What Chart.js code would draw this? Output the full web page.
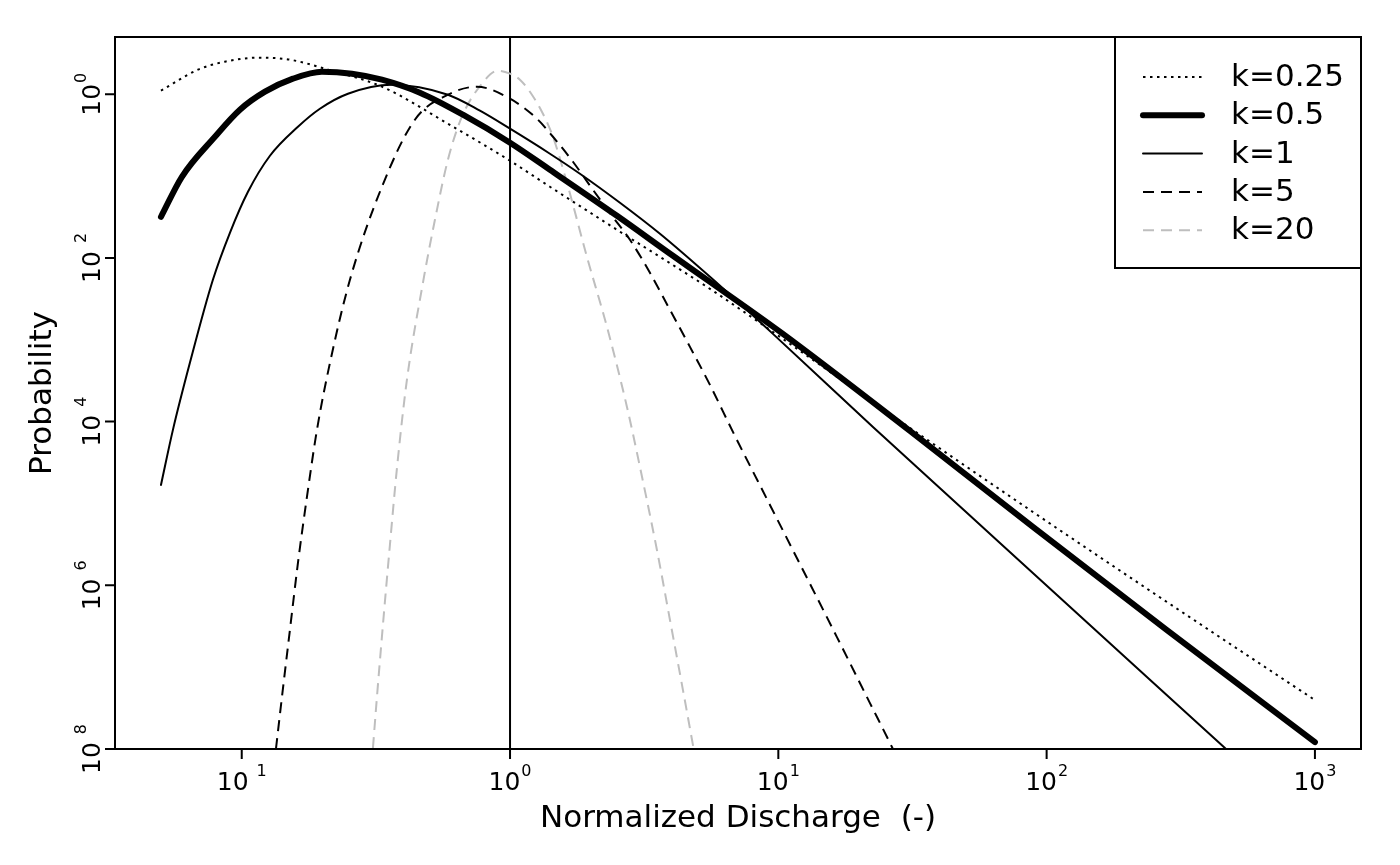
<!DOCTYPE html>
<html>
<head>
<meta charset="utf-8">
<script src="https://cdn.jsdelivr.net/npm/chart.js@4.4.0/dist/chart.umd.min.js"></script>
<style>
  html, body { margin: 0; padding: 0; background: #fff; }
  canvas { display: block; }
</style>
</head>
<body>
<canvas id="pdf-chart" width="1400" height="865"></canvas>
<script>
/* values (normalized discharge vs probability) */
const seriesLabels = ['k=0.25', 'k=0.5', 'k=1', 'k=5', 'k=20'];

const qK025 = [0.05, 0.06865, 0.08659, 0.1149, 0.1512, 0.2096, 0.3331, 0.5869, 1.0, 1.4083, 2.5035, 5.561, 10.139, 28.39, 88.89, 280.8, 1000];
const pK025 = [1.104, 1.993, 2.497, 2.794, 2.641, 1.993, 1.235, 0.436, 0.1538, 0.0740, 0.02206, 0.00419, 0.001085, 1.02e-4, 7.87e-6, 6.25e-7, 3.96e-8];

const qK05 = [0.05, 0.05985, 0.07945, 0.09847, 0.1221, 0.1552, 0.199, 0.2575, 0.3331, 0.4614, 0.6674, 1.0, 1.4083, 2.5035, 4.0482, 5.561, 10.404, 30.94, 88.89, 280.8, 1000];
const pK05 = [0.0318, 0.098, 0.3021, 0.646, 1.073, 1.547, 1.884, 1.781, 1.504, 1.043, 0.5615, 0.2553, 0.1194, 0.0327, 0.01061, 0.0051, 0.00118, 7.7e-5, 5.16e-6, 2.84e-7, 1.215e-8];

const qK1 = [0.05, 0.0554, 0.06409, 0.07808, 0.09036, 0.1055, 0.1274, 0.162, 0.1956, 0.2488, 0.3629, 0.5869, 0.7723, 1.0, 1.4083, 1.822, 2.5688, 3.6207, 5.561, 9.548, 22.527, 66.99, 461.9, 1000];
const pK1 = [1.683e-5, 7.92e-5, 5.22e-4, 0.0054, 0.02026, 0.06427, 0.1771, 0.4006, 0.6648, 1.014, 1.306, 0.986, 0.629, 0.3787, 0.1874, 0.1067, 0.04717, 0.01971, 0.005873, 0.00118, 8.61e-5, 3.29e-6, 1.026e-8, 1.02e-9];

const qK5 = [0.1341, 0.1412, 0.1512, 0.162, 0.175, 0.1907, 0.2132, 0.2531, 0.3331, 0.442, 0.5869, 0.7526, 1.0, 1.2595, 1.4454, 1.7158, 2.037, 2.3981, 2.799, 3.3228, 3.9457, 4.6842, 5.561, 6.7734, 9.3053, 12.354, 16.535, 21.953, 26.735, 30.94];
const pK5 = [1.0e-8, 4.31e-8, 2.84e-7, 1.874e-6, 1.201e-5, 7.92e-5, 5.22e-4, 0.0054, 0.074, 0.488, 0.986, 1.235, 0.881, 0.5017, 0.3021, 0.1496, 0.068, 0.0327, 0.01665, 0.006574, 0.00232, 8.19e-4, 2.81e-4, 7.48e-5, 9.59e-6, 1.538e-6, 2.33e-7, 3.64e-8, 1.0e-8, 3.62e-9];

const qK20 = [0.3083, 0.3191, 0.3359, 0.3567, 0.379, 0.4127, 0.4735, 0.5249, 0.5869, 0.6617, 0.7856, 0.9014, 1.0, 1.0887, 1.2067, 1.3262, 1.4454, 1.6298, 1.9344, 2.2974, 2.7277, 3.0495, 3.5283, 3.9457, 4.411, 4.8065, 4.89];
const pK20 = [1.026e-8, 4.31e-8, 3.27e-7, 3.11e-6, 2.72e-5, 3.23e-4, 0.00496, 0.0292, 0.1582, 0.531, 1.344, 1.938, 1.781, 1.504, 0.986, 0.5776, 0.3021, 0.0828, 0.01031, 0.001438, 1.512e-4, 2.79e-5, 2.7e-6, 3.77e-7, 5.25e-8, 1.116e-8, 8.2e-9];

const xTickValues = [0.1, 1, 10, 100, 1000];
const yTickValues = [1, 1e-2, 1e-4, 1e-6, 1e-8];
const xRange = [0.0337, 1485];
const yRange = [1e-8, 5];
const refLineX = 1;

const FONT = '"DejaVu Sans", sans-serif';

function pairs(xs, ys) {
  return xs.map((x, i) => ({ x: x, y: ys[i] }));
}

// draws 10^e the way the reference shows it (minus sign left as a blank)
function drawPower(ctx, exp, cx, baseline) {
  const base = '10';
  const sup = String(Math.abs(exp));
  ctx.font = '25px ' + FONT;
  const wBase = ctx.measureText(base).width;
  ctx.font = '16px ' + FONT;
  const wSup = ctx.measureText(sup).width;
  const gap = exp < 0 ? 8 : 1;
  const start = cx - (wBase + gap + wSup) / 2;
  ctx.textAlign = 'left';
  ctx.textBaseline = 'alphabetic';
  ctx.font = '25px ' + FONT;
  ctx.fillText(base, start, baseline);
  ctx.font = '16px ' + FONT;
  ctx.fillText(sup, start + wBase + gap, baseline - 14);
}

const axesPlugin = {
  id: 'rAxes',
  afterDraw(chart) {
    const { ctx, chartArea: a, scales } = chart;
    ctx.save();
    ctx.strokeStyle = '#000';
    ctx.fillStyle = '#000';
    ctx.lineWidth = 2;
    ctx.strokeRect(a.left, a.top, a.right - a.left, a.bottom - a.top);

    // tick marks
    ctx.beginPath();
    xTickValues.forEach(v => {
      const px = scales.x.getPixelForValue(v);
      ctx.moveTo(px, a.bottom);
      ctx.lineTo(px, a.bottom + 10);
    });
    yTickValues.forEach(v => {
      const py = scales.y.getPixelForValue(v);
      ctx.moveTo(a.left, py);
      ctx.lineTo(a.left - 10, py);
    });
    ctx.stroke();

    // tick labels
    xTickValues.forEach(v => {
      drawPower(ctx, Math.round(Math.log10(v)), scales.x.getPixelForValue(v), a.bottom + 41);
    });
    yTickValues.forEach(v => {
      ctx.save();
      ctx.translate(a.left - 15, scales.y.getPixelForValue(v));
      ctx.rotate(-Math.PI / 2);
      drawPower(ctx, Math.round(Math.log10(v)), 0, 0);
      ctx.restore();
    });

    // axis titles
    ctx.font = '31px ' + FONT;
    ctx.textAlign = 'center';
    ctx.textBaseline = 'alphabetic';
    ctx.fillText('Normalized Discharge  (-)', (a.left + a.right) / 2, a.bottom + 78);
    ctx.save();
    ctx.translate(a.left - 64, (a.top + a.bottom) / 2);
    ctx.rotate(-Math.PI / 2);
    ctx.fillText('Probability', 0, 0);
    ctx.restore();
    ctx.restore();
  }
};

const legendPlugin = {
  id: 'rLegend',
  afterDraw(chart) {
    const { ctx, chartArea: a } = chart;
    const boxLeft = 1115;
    const boxBottom = 268;
    ctx.save();
    ctx.fillStyle = '#fff';
    ctx.fillRect(boxLeft, a.top, a.right - boxLeft, boxBottom - a.top);
    ctx.strokeStyle = '#000';
    ctx.lineWidth = 2;
    ctx.strokeRect(boxLeft, a.top, a.right - boxLeft, boxBottom - a.top);

    ctx.font = '31px ' + FONT;
    ctx.textAlign = 'left';
    ctx.textBaseline = 'middle';
    chart.data.datasets.filter(ds => !ds.hideInLegend).forEach((ds, i) => {
      const y = 77 + i * 38.3;
      ctx.save();
      ctx.strokeStyle = ds.borderColor;
      ctx.lineWidth = ds.borderWidth;
      ctx.lineCap = ds.borderCapStyle || 'butt';
      ctx.setLineDash(ds.borderDash || []);
      ctx.beginPath();
      ctx.moveTo(1143, y);
      ctx.lineTo(1202, y);
      ctx.stroke();
      ctx.restore();
      ctx.fillStyle = '#000';
      ctx.fillText(ds.label, 1231, y + 1);
    });
    ctx.restore();
  }
};

const ctx = document.getElementById('pdf-chart').getContext('2d');

const common = {
  pointRadius: 0,
  fill: false,
  cubicInterpolationMode: 'monotone',
  clip: 0
};

new Chart(ctx, {
  type: 'line',
  data: {
    datasets: [
      { ...common, label: seriesLabels[0], data: pairs(qK025, pK025), borderColor: '#000', borderWidth: 2, borderDash: [2.5, 4.5] },
      { ...common, label: seriesLabels[1], data: pairs(qK05, pK05), borderColor: '#000', borderWidth: 6, borderCapStyle: 'round' },
      { ...common, label: seriesLabels[2], data: pairs(qK1, pK1), borderColor: '#000', borderWidth: 2, borderCapStyle: 'round' },
      { ...common, label: seriesLabels[3], data: pairs(qK5, pK5), borderColor: '#000', borderWidth: 2, borderDash: [11, 7] },
      { ...common, label: seriesLabels[4], data: pairs(qK20, pK20), borderColor: '#bebebe', borderWidth: 2, borderDash: [11, 7] },
      { ...common, label: 'ref', hideInLegend: true, data: [{ x: refLineX, y: yRange[0] }, { x: refLineX, y: yRange[1] }], borderColor: '#000', borderWidth: 2 }
    ]
  },
  options: {
    responsive: false,
    animation: false,
    devicePixelRatio: 1,
    layout: { padding: { top: 37, right: 39, left: 0, bottom: 0 } },
    plugins: {
      legend: { display: false },
      tooltip: { enabled: false }
    },
    scales: {
      x: {
        type: 'logarithmic',
        min: xRange[0],
        max: xRange[1],
        grid: { display: false },
        border: { display: false },
        ticks: { display: false },
        afterFit: s => { s.height = 116; }
      },
      y: {
        type: 'logarithmic',
        min: yRange[0],
        max: yRange[1],
        grid: { display: false },
        border: { display: false },
        ticks: { display: false },
        afterFit: s => { s.width = 115; }
      }
    }
  },
  plugins: [axesPlugin, legendPlugin]
});
</script>
</body>
</html>
